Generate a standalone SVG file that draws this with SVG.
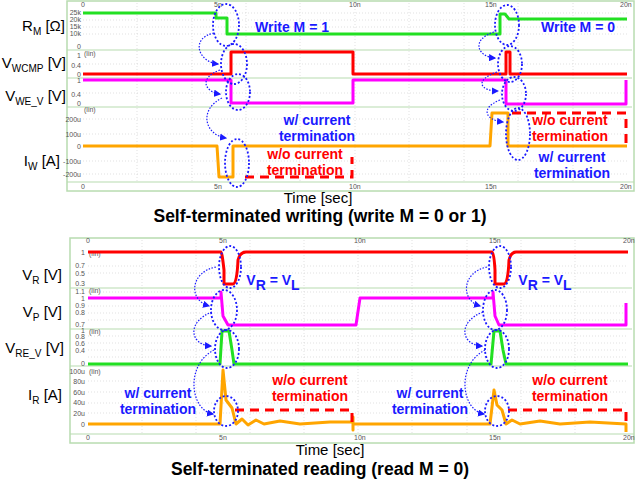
<svg xmlns="http://www.w3.org/2000/svg" width="637" height="480" viewBox="0 0 637 480">
<style>
text{font-family:"Liberation Sans",Arial,sans-serif}
.lab{font-size:15px;fill:#000;text-anchor:end}
.sub{font-size:10px}
.tk{font-size:7px;fill:#555}
.tl{font-size:7px;fill:#555;text-anchor:end}
.frame{fill:#fff;stroke:#b8dcb0;stroke-width:1.5}
.div{stroke:#b8dcb0;stroke-width:1.2}
.grid{stroke:#ccc;stroke-width:0.6;stroke-dasharray:1 2}
.tr{fill:none;stroke-width:3;stroke-linejoin:round}
.dash{fill:none;stroke:#f00;stroke-width:3;stroke-dasharray:9 6}
.bl{fill:#1a1aff;font-weight:bold;font-size:14px;text-anchor:middle}
.rd{fill:#f00;font-weight:bold;font-size:14px;text-anchor:middle}
.ell{fill:none;stroke:#1a1aff;stroke-width:1.8;stroke-dasharray:2 2}
.arr{fill:none;stroke:#1a1aff;stroke-width:1.2;stroke-dasharray:1.5 1.5;marker-end:url(#ah)}
.ttl{font-size:17.5px;font-weight:bold;text-anchor:middle}
.tm{font-size:15px;text-anchor:middle}
</style>
<defs><marker id="ah" markerWidth="6" markerHeight="6" refX="5" refY="3" orient="auto"><path d="M0,0L6,3L0,6z" fill="#1a1aff"/></marker></defs>
<g id="top-plot">
<rect class="frame" x="67" y="1" width="567" height="190"/>
<line class="div" x1="67" y1="50" x2="632" y2="50"/><line class="div" x1="67" y1="78" x2="632" y2="78"/><line class="div" x1="67" y1="107" x2="632" y2="107"/><line class="div" x1="67" y1="182" x2="634" y2="182"/>
<path class="grid" d="M83,13H627M83,20H627M83,27H627M83,34H627M83,64H627M83,93H627M83,119H627M83,134H627M83,161H627M83,174H627M137,3V182M192,3V182M246,3V182M300,3V182M355,3V182M409,3V182M464,3V182M518,3V182M573,3V182"/>
<text class="tk" x="81" y="7">0</text><text class="tk" x="214" y="7">5n</text><text class="tk" x="349" y="7">10n</text><text class="tk" x="485" y="7">15n</text><text class="tk" x="620" y="7">20n</text>
<text class="tk" x="81" y="189">0</text><text class="tk" x="214" y="189">5n</text><text class="tk" x="349" y="189">10n</text><text class="tk" x="485" y="189">15n</text><text class="tk" x="620" y="189">20n</text>
<text class="tl" x="81" y="15">25k</text><text class="tl" x="81" y="22">20k</text><text class="tl" x="81" y="29">15k</text><text class="tl" x="81" y="36">10k</text><text class="tl" x="81" y="49">0</text>
<text class="tl" x="81" y="58">1</text><text class="tl" x="81" y="68">0.4</text><text class="tl" x="81" y="77">0</text>
<text class="tl" x="81" y="83">1</text><text class="tl" x="81" y="97">0.4</text><text class="tl" x="81" y="106">0</text>
<text class="tl" x="81" y="122">200u</text><text class="tl" x="81" y="137">100u</text><text class="tl" x="81" y="149">0</text><text class="tl" x="81" y="164">-100u</text><text class="tl" x="81" y="177">-200u</text>
<text class="tk" x="84" y="56">(lin)</text><text class="tk" x="84" y="112">(lin)</text>
</g>
<g id="top-traces">
<path class="tr" stroke="#22e022" d="M83,13H216V18H227V34H500V14H505L509,19H627"/>
<path class="tr" stroke="#f00" d="M83,74H231V52H353V74H506V52H510V74H627"/>
<path class="tr" stroke="#f0f" d="M83,80H231V103H353V80H506V104H626V80"/>
<path class="tr" stroke="#ffa500" d="M83,146H217L219,177H233V146H490L492,113H508V146H627"/>
<path class="dash" d="M245,177H352V157"/><path class="dash" d="M512,113H626V146"/>
</g>
<g id="top-labels">
<text class="lab" x="65" y="31">R<tspan class="sub" dy="4">M</tspan><tspan dy="-4"> [Ω]</tspan></text>
<text class="lab" x="66" y="68">V<tspan class="sub" dy="4">WCMP</tspan><tspan dy="-4"> [V]</tspan></text>
<text class="lab" x="66" y="101">V<tspan class="sub" dy="4">WE_V</tspan><tspan dy="-4"> [V]</tspan></text>
<text class="lab" x="60" y="166">I<tspan class="sub" dy="4">W</tspan><tspan dy="-4"> [A]</tspan></text>
<text class="bl" x="292" y="32" font-size="15">Write M = 1</text>
<text class="bl" x="578" y="32" font-size="15">Write M = 0</text>
<text class="bl" x="317" y="125">w/ current</text><text class="bl" x="317" y="141">termination</text>
<text class="rd" x="305" y="159">w/o current</text><text class="rd" x="305" y="175">termination</text>
<text class="rd" x="570" y="125">w/o current</text><text class="rd" x="570" y="141">termination</text>
<text class="bl" x="572" y="162">w/ current</text><text class="bl" x="572" y="178">termination</text>
<text class="tm" x="318" y="203">Time [sec]</text>
<text class="ttl" x="320" y="222">Self-terminated writing (write M = 0 or 1)</text>
</g>
<g id="top-annot">
<ellipse class="ell" cx="226" cy="25" rx="13" ry="21"/><ellipse class="ell" cx="234" cy="64" rx="13" ry="20"/><ellipse class="ell" cx="238" cy="92" rx="12" ry="18"/><ellipse class="ell" cx="237" cy="163" rx="12" ry="24"/>
<ellipse class="ell" cx="507" cy="25" rx="12" ry="20"/><ellipse class="ell" cx="510" cy="64" rx="12" ry="18"/><ellipse class="ell" cx="514" cy="94" rx="12" ry="17"/><ellipse class="ell" cx="518" cy="134" rx="12" ry="26"/>
<path class="arr" d="M214,33C190,38 198,62 218,64"/><path class="arr" d="M220,70C198,78 205,92 220,94"/><path class="arr" d="M222,98C198,110 205,135 226,138"/>
<path class="arr" d="M494,32C470,40 478,57 495,58"/><path class="arr" d="M497,72C474,80 480,91 498,91"/><path class="arr" d="M500,100C480,108 485,120 503,122"/>
</g>
<g id="bottom-plot">
<rect class="frame" x="70" y="238" width="564" height="205"/>
<line class="div" x1="70" y1="288" x2="632" y2="288"/><line class="div" x1="70" y1="329" x2="632" y2="329"/><line class="div" x1="70" y1="366" x2="632" y2="366"/><line class="div" x1="70" y1="434" x2="634" y2="434"/>
<path class="grid" d="M88,266H628M88,273H628M88,292H628M88,306H628M88,313H628M88,320H628M88,336H628M88,343H628M88,350H628M88,357H628M88,381H628M88,392H628M88,403H628M88,413H628M142,240V434M196,240V434M250,240V434M304,240V434M358,240V434M412,240V434M467,240V434M521,240V434M575,240V434"/>
<text class="tk" x="86" y="243">0</text><text class="tk" x="219" y="243">5n</text><text class="tk" x="354" y="243">10n</text><text class="tk" x="489" y="243">15n</text><text class="tk" x="623" y="243">20n</text>
<text class="tk" x="86" y="440">0</text><text class="tk" x="219" y="440">5n</text><text class="tk" x="354" y="440">10n</text><text class="tk" x="489" y="440">15n</text><text class="tk" x="623" y="440">20n</text>
<text class="tl" x="85" y="255">1</text><text class="tl" x="85" y="268">0.7</text><text class="tl" x="85" y="276">0.5</text><text class="tl" x="85" y="286">0.3</text>
<text class="tl" x="85" y="294">1.1</text><text class="tl" x="85" y="301">1</text><text class="tl" x="85" y="308">0.9</text><text class="tl" x="85" y="315">0.8</text><text class="tl" x="85" y="327">0.7</text>
<text class="tl" x="85" y="333">1</text><text class="tl" x="85" y="339">0.8</text><text class="tl" x="85" y="346">0.6</text><text class="tl" x="85" y="353">0.4</text><text class="tl" x="85" y="366">0</text>
<text class="tl" x="85" y="374">100u</text><text class="tl" x="85" y="384">80u</text><text class="tl" x="85" y="395">60u</text><text class="tl" x="85" y="405">40u</text><text class="tl" x="85" y="416">20u</text><text class="tl" x="85" y="427">0</text>
<text class="tk" x="89" y="256">(lin)</text><text class="tk" x="89" y="293">(lin)</text><text class="tk" x="89" y="334">(lin)</text><text class="tk" x="89" y="374">(lin)</text>
</g>
<g id="bottom-traces">
<path class="tr" stroke="#f00" d="M88,252H221Q222,252 224,270V284H233Q237,284 238,260Q240,252 246,252H492Q494,252 495,270V284H504Q508,284 509,260Q511,252 516,252H628"/>
<path class="tr" stroke="#f0f" d="M88,298H221V292L223,316L228,325H356L360,298H493V292L495,316L499,325H626V303"/>
<path class="tr" stroke="#22e022" d="M88,364H220L222,331H229L232,350L234,364H491L494,331H500L503,350L506,364H628"/>
<path class="tr" stroke="#ffa500" d="M88,424H220L223,370L226,400L232,408L236,424L242,419L248,425L256,420L264,424L280,421L300,424L330,422H353V417V430V424H490L494,390L497,405L502,410L506,424L512,420L520,424L540,421L560,424L590,422L626,424V432"/>
<path class="dash" d="M235,410H352V424"/><path class="dash" d="M508,410H626V424"/>
</g>
<g id="bottom-labels">
<text class="lab" x="62" y="280">V<tspan class="sub" dy="4">R</tspan><tspan dy="-4"> [V]</tspan></text>
<text class="lab" x="62" y="317">V<tspan class="sub" dy="4">P</tspan><tspan dy="-4"> [V]</tspan></text>
<text class="lab" x="64" y="353">V<tspan class="sub" dy="4">RE_V</tspan><tspan dy="-4"> [V]</tspan></text>
<text class="lab" x="62" y="400">I<tspan class="sub" dy="4">R</tspan><tspan dy="-4"> [A]</tspan></text>
<text class="bl" x="273" y="285" font-size="20">V<tspan font-size="14" dy="5">R</tspan><tspan dy="-5"> = V</tspan><tspan font-size="14" dy="5">L</tspan></text>
<text class="bl" x="545" y="285" font-size="20">V<tspan font-size="14" dy="5">R</tspan><tspan dy="-5"> = V</tspan><tspan font-size="14" dy="5">L</tspan></text>
<text class="bl" x="158" y="398">w/ current</text><text class="bl" x="158" y="414">termination</text>
<text class="rd" x="310" y="385">w/o current</text><text class="rd" x="310" y="401">termination</text>
<text class="bl" x="430" y="398">w/ current</text><text class="bl" x="430" y="414">termination</text>
<text class="rd" x="570" y="385">w/o current</text><text class="rd" x="570" y="401">termination</text>
<text class="tm" x="330" y="455">Time [sec]</text>
<text class="ttl" x="320" y="475">Self-terminated reading (read M = 0)</text>
</g>
<g id="bottom-annot">
<ellipse class="ell" cx="230" cy="267" rx="11" ry="21"/><ellipse class="ell" cx="224" cy="310" rx="13" ry="20"/><ellipse class="ell" cx="227" cy="349" rx="12" ry="19"/><ellipse class="ell" cx="226" cy="411" rx="12" ry="15"/>
<ellipse class="ell" cx="500" cy="267" rx="11" ry="21"/><ellipse class="ell" cx="495" cy="310" rx="12" ry="20"/><ellipse class="ell" cx="497" cy="349" rx="12" ry="19"/><ellipse class="ell" cx="497" cy="411" rx="12" ry="15"/>
<path class="arr" d="M216,267C190,272 188,300 209,306"/><path class="arr" d="M212,312C186,322 190,345 211,346"/><path class="arr" d="M214,350C185,365 190,410 213,414"/>
<path class="arr" d="M487,267C462,272 460,300 480,306"/><path class="arr" d="M483,312C457,322 461,345 482,346"/><path class="arr" d="M485,350C456,365 461,410 484,414"/>
</g>
</svg>
